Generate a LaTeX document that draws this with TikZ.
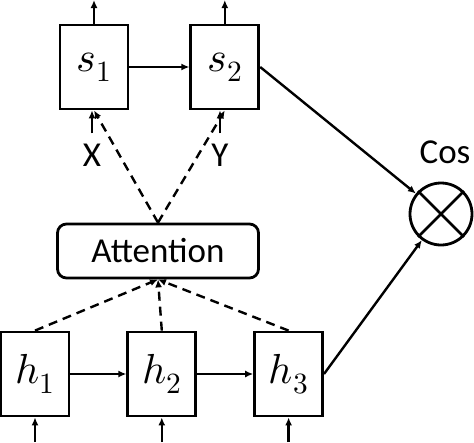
\documentclass[tikz,border=0pt]{standalone}
\usepackage{fontspec}
\usepackage{unicode-math}
\setmainfont{Carlito}
\setmathfont{Latin Modern Math}
\usetikzlibrary{positioning,arrows.meta}

\begin{document}
\begin{tikzpicture}[x=1pt, y=-1pt, line width=2.8pt,
  every node/.style={font=\fontsize{35}{40}\selectfont},
  cell/.style={rectangle, draw, minimum width=68pt, minimum height=84pt, inner sep=0pt, font=\fontsize{42}{50}\selectfont},
  arr/.style={line width=2.4pt, -{Latex[length=8pt,width=7pt]}},
  att/.style={arr, dash pattern=on 9pt off 6pt}]
\useasboundingbox (0,0) rectangle (474,442);

% decoder
\node[cell] (S1) at (94,67) {$s_1$};
\node[cell, right=60pt of S1] (S2) {$s_2$};
\node[inner sep=9pt] (X) at (92,155) {X};
\node[inner sep=9pt] (Y) at (220,155) {Y};
% encoder
\node[cell] (H1) at (35,374) {$h_1$};
\node[cell, right=56pt of H1] (H2) {$h_2$};
\node[cell, right=56pt of H2] (H3) {$h_3$};
\node[draw, rounded corners=9pt, minimum width=201pt, minimum height=54pt] (A) at (158,251) {Attention};
\node[circle, draw, minimum size=62pt, inner sep=0pt] (C) at (441,214) {};
\node (L) at (445,152) {Cos};
\draw (C.north west) -- (C.south east) (C.north east) -- (C.south west);

\coordinate (O1) at (S1.north |- 0,0);
\coordinate (O2) at (S2.north |- 0,0);
\foreach \h in {H1,H2,H3}
  \coordinate (I\h) at (\h.south |- 0,442);

\draw[arr] (S1) -- (S2);
\draw[arr] (S1.north) -- (O1);
\draw[arr] (S2.north) -- (O2);
\draw[arr] (X.north) -- (X.north |- S1.south);
\draw[arr] (Y.north) -- (Y.north |- S2.south);
\draw[att] (A.north) -- (S1.south);
\draw[att] (A.north) -- (S2.south);
\foreach \h in {H1,H2,H3} {
  \draw[arr] (I\h) -- (\h);
  \draw[att] (\h.north) -- (A.south);
}
\draw[arr] (H1) -- (H2);
\draw[arr] (H2) -- (H3);
\draw[arr] (S2.east) -- (C);
\draw[arr] (H3.east) -- (C);
\end{tikzpicture}
\end{document}
